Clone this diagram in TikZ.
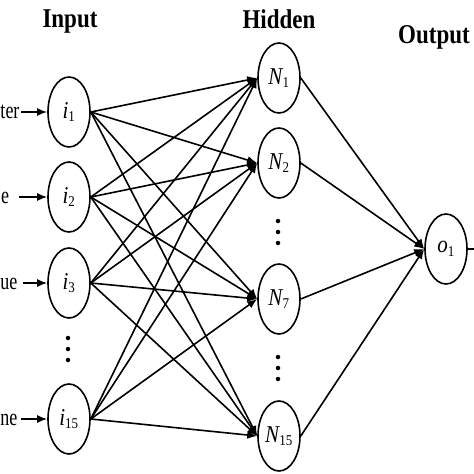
\documentclass[tikz,border=0pt]{standalone}
\usepackage{fontspec}
\setmainfont{Liberation Serif}
\usetikzlibrary{arrows.meta,shapes.geometric}
\tikzset{
  neuron/.style={draw, line width=1.6pt, ellipse, minimum width=42pt, minimum height=70pt, inner sep=0pt},
  title/.style={font=\fontsize{23}{26}\selectfont\bfseries, inner sep=0pt, anchor=base},
  inlabel/.style={font=\fontsize{20}{22}\selectfont, inner sep=0pt, anchor=base west},
  conn/.style={line width=1.6pt, -{Latex[length=10pt,width=8pt]}},
  wire/.style={line width=1.6pt},
  dot/.style={fill=black, circle, inner sep=0pt, minimum size=4.5pt}
}
\newcommand{\nlab}[2]{\scalebox{1}[1.15]{\fontsize{21}{23}\selectfont\itshape #1\textsubscript{\normalfont\fontsize{13}{13}\selectfont #2}}}
\newcommand{\ttl}[1]{\scalebox{1}[1.18]{#1}}
\newcommand{\lbl}[1]{\scalebox{0.9}[1.2]{#1}}
\begin{document}
\begin{tikzpicture}[x=1pt,y=-1pt]
\useasboundingbox (0,0) rectangle (474,474);
% titles
\node[title] (tin) at (70,27) {\ttl{Input}};
\node[title] (thid) at (279,28) {\ttl{Hidden}};
\node[title] (tout) at (434,43) {\ttl{Output}};
% input nodes
\node[neuron] (i1) at (69,112) {\nlab{i}{1}};
\node[neuron] (i2) at (69,197) {\nlab{i}{2}};
\node[neuron] (i3) at (69,283) {\nlab{i}{3}};
\node[neuron] (i15) at (69,419) {\nlab{i}{15}};
% hidden nodes
\node[neuron] (n1) at (279,78) {\nlab{N}{1}};
\node[neuron] (n2) at (279,163) {\nlab{N}{2}};
\node[neuron] (n7) at (279,299) {\nlab{N}{7}};
\node[neuron] (n15) at (279,436) {\nlab{N}{15}};
% output node
\node[neuron] (o1) at (446,249) {\nlab{o}{1}};
\coordinate (oend) at (476,249);
% dots
\foreach \y [count=\k] in {338,349,360} \node[dot] (da\k) at (68,\y) {};
\foreach \y [count=\k] in {221,232,243} \node[dot] (db\k) at (278,\y) {};
\foreach \y [count=\k] in {357,368,379} \node[dot] (dc\k) at (278,\y) {};
% input labels
\node[inlabel] (l1) at (0.3,118) {\lbl{ter}};
\node[inlabel] (l2) at (1,203) {\lbl{e}};
\node[inlabel] (l3) at (0.3,289) {\lbl{ue}};
\node[inlabel] (l15) at (0.3,425) {\lbl{ne}};
\coordinate (a1) at (21,112);
\coordinate (a2) at (19,197);
\coordinate (a3) at (23,283);
\coordinate (a15) at (21,419);
\foreach \k in {1,2,3,15} \draw[conn] (a\k) -- (i\k.west);
% input to hidden
\foreach \a in {i1,i2,i3,i15}
  \foreach \b in {n1,n2,n7,n15}
    \draw[conn] (\a.east) -- (\b.west);
% hidden to output
\foreach \b in {n1,n2,n7,n15}
  \draw[conn] (\b.east) -- (o1.west);
\draw[wire] (o1.east) -- (oend);
\end{tikzpicture}
\end{document}
